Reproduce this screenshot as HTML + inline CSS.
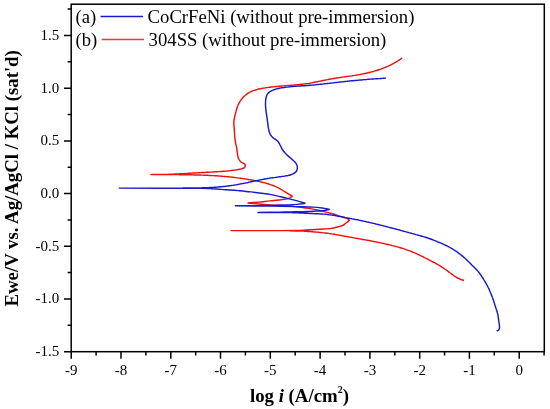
<!DOCTYPE html>
<html><head><meta charset="utf-8"><style>
html,body{margin:0;padding:0;background:#fff;}
svg{display:block;}
.t{font-family:"Liberation Serif",serif;font-size:15px;fill:#000;}
.ti{font-family:"Liberation Serif",serif;font-size:18.8px;font-weight:bold;fill:#000;}
.lg{font-family:"Liberation Serif",serif;font-size:18.7px;fill:#000;}
</style></head><body>
<svg width="550" height="409" viewBox="0 0 550 409">
<path d="M464.1,280.4C463.8,280.3 463.1,280.2 462.6,280.0C462.1,279.9 461.6,279.7 461.2,279.6C460.7,279.4 460.2,279.2 459.8,279.0C459.3,278.8 458.9,278.6 458.4,278.4C458.0,278.1 457.5,277.9 457.1,277.6C456.7,277.4 456.2,277.1 455.8,276.9C455.4,276.6 455.0,276.3 454.5,276.1C454.1,275.8 453.7,275.5 453.3,275.2C452.9,274.9 452.5,274.6 452.1,274.3C451.7,274.0 451.3,273.7 450.9,273.4C450.5,273.1 450.1,272.8 449.6,272.5C449.2,272.2 448.8,271.9 448.4,271.6C448.0,271.3 447.6,271.0 447.2,270.7C446.8,270.4 446.4,270.1 446.0,269.9C445.6,269.6 445.2,269.3 444.7,269.0C444.3,268.7 443.9,268.4 443.5,268.1C443.1,267.9 442.7,267.6 442.2,267.3C441.8,267.0 441.4,266.8 441.0,266.5C440.5,266.2 440.1,266.0 439.7,265.7C439.2,265.5 438.8,265.2 438.4,264.9C437.9,264.7 437.5,264.4 437.1,264.2C436.6,263.9 436.2,263.7 435.7,263.4C435.3,263.2 434.9,263.0 434.4,262.7C434.0,262.5 433.5,262.2 433.1,262.0C432.6,261.8 432.2,261.5 431.8,261.3C431.3,261.0 430.9,260.8 430.4,260.6C430.0,260.3 429.5,260.1 429.1,259.9C428.6,259.6 428.2,259.4 427.7,259.2C427.3,258.9 426.8,258.7 426.4,258.5C425.9,258.2 425.5,258.0 425.0,257.8C424.6,257.6 424.1,257.3 423.7,257.1C423.2,256.9 422.8,256.7 422.3,256.4C421.9,256.2 421.4,256.0 421.0,255.8C420.5,255.6 420.0,255.3 419.6,255.1C419.1,254.9 418.7,254.7 418.2,254.5C417.8,254.3 417.3,254.1 416.8,253.9C416.4,253.6 415.9,253.4 415.5,253.2C415.0,253.0 414.5,252.8 414.1,252.6C413.6,252.4 413.1,252.2 412.7,252.1C412.2,251.9 411.7,251.7 411.3,251.5C410.8,251.3 410.3,251.1 409.9,250.9C409.4,250.8 408.9,250.6 408.5,250.4C408.0,250.2 407.5,250.1 407.0,249.9C406.6,249.7 406.1,249.6 405.6,249.4C405.1,249.2 404.7,249.1 404.2,248.9C403.7,248.8 403.2,248.6 402.7,248.4C402.3,248.3 401.8,248.1 401.3,248.0C400.8,247.9 400.3,247.7 399.9,247.6C399.4,247.4 398.9,247.3 398.4,247.1C397.9,247.0 397.4,246.9 396.9,246.7C396.5,246.6 396.0,246.5 395.5,246.3C395.0,246.2 394.5,246.1 394.0,246.0C393.5,245.8 393.0,245.7 392.5,245.6C392.1,245.5 391.6,245.3 391.1,245.2C390.6,245.1 390.1,245.0 389.6,244.9C389.1,244.7 388.6,244.6 388.1,244.5C387.6,244.4 387.1,244.3 386.7,244.2C386.2,244.1 385.7,244.0 385.2,243.8C384.7,243.7 384.2,243.6 383.7,243.5C383.2,243.4 382.7,243.3 382.2,243.2C381.7,243.1 381.2,243.0 380.7,242.9C380.2,242.8 379.8,242.7 379.3,242.6C378.8,242.5 378.3,242.4 377.8,242.3C377.3,242.2 376.8,242.1 376.3,242.0C375.8,241.9 375.3,241.8 374.8,241.7C374.3,241.6 373.8,241.5 373.3,241.4C372.8,241.3 372.3,241.2 371.8,241.1C371.3,241.0 370.8,240.9 370.4,240.8C369.9,240.7 369.4,240.6 368.9,240.5C368.4,240.4 367.9,240.4 367.4,240.3C366.9,240.2 366.4,240.1 365.9,240.0C365.4,239.9 364.9,239.8 364.4,239.7C363.9,239.6 363.4,239.5 362.9,239.4C362.4,239.4 361.9,239.3 361.4,239.2C360.9,239.1 360.4,239.0 359.9,238.9C359.4,238.8 358.9,238.7 358.4,238.6C357.9,238.6 357.5,238.5 357.0,238.4C356.5,238.3 356.0,238.2 355.5,238.1C355.0,238.0 354.5,237.9 354.0,237.9C353.5,237.8 353.0,237.7 352.5,237.6C352.0,237.5 351.5,237.4 351.0,237.3C350.5,237.2 350.0,237.1 349.5,237.1C349.0,237.0 348.5,236.9 348.0,236.8C347.5,236.7 347.0,236.6 346.5,236.5C346.0,236.4 345.5,236.3 345.0,236.2C344.5,236.2 344.0,236.1 343.6,236.0C343.1,235.9 342.6,235.8 342.1,235.7C341.6,235.6 341.1,235.5 340.6,235.4C340.1,235.3 339.6,235.2 339.1,235.1C338.6,235.1 338.1,235.0 337.6,234.9C337.1,234.8 336.6,234.7 336.1,234.6C335.6,234.5 335.1,234.4 334.6,234.3C334.1,234.3 333.6,234.2 333.1,234.1C332.6,234.0 332.1,233.9 331.6,233.9C331.1,233.8 330.6,233.7 330.1,233.6C329.6,233.6 329.1,233.5 328.6,233.4C328.1,233.3 327.6,233.3 327.1,233.2C326.6,233.2 326.1,233.1 325.6,233.0C325.1,233.0 324.6,232.9 324.1,232.9C323.6,232.8 323.1,232.7 322.6,232.7C322.1,232.6 321.6,232.6 321.1,232.5C320.6,232.5 320.1,232.4 319.6,232.4C319.1,232.3 318.6,232.3 318.1,232.2C317.6,232.2 317.1,232.2 316.6,232.1C316.1,232.1 315.6,232.0 315.1,232.0C314.6,231.9 314.1,231.9 313.6,231.9C313.1,231.8 312.6,231.8 312.1,231.7C311.6,231.7 311.1,231.7 310.6,231.6C310.1,231.6 309.6,231.5 309.1,231.5C308.6,231.5 308.0,231.4 307.5,231.4C307.0,231.4 306.5,231.3 306.0,231.3C305.5,231.3 305.0,231.2 304.5,231.2C304.0,231.2 303.5,231.1 303.0,231.1C302.5,231.1 302.0,231.0 301.5,231.0C301.0,231.0 300.3,230.9 300.0,230.9C298.3,230.9 293.3,230.8 290.0,230.7C286.7,230.6 289.8,230.6 280.0,230.6C270.2,230.6 239.2,230.6 231.1,230.6C239.2,230.6 268.5,230.6 280.0,230.6C291.5,230.5 295.0,230.5 300.0,230.4C305.0,230.3 306.7,229.9 310.0,229.7C313.3,229.5 316.7,229.4 320.0,229.2C323.3,229.0 326.8,229.0 330.0,228.6C333.2,228.2 336.8,227.2 339.1,226.6C341.4,226.0 342.4,225.7 343.6,225.0C344.8,224.3 345.4,223.5 346.4,222.7C347.4,221.9 349.0,220.7 349.5,220.3C349.0,220.0 347.9,218.8 346.4,218.2C344.9,217.5 343.0,217.2 340.5,216.4C338.0,215.6 334.4,214.4 331.4,213.5C328.4,212.6 325.3,211.9 322.3,211.2C319.3,210.5 316.2,209.7 313.2,209.1C310.2,208.5 307.1,208.2 304.1,207.8C301.1,207.4 297.6,207.0 295.0,206.6C292.4,206.2 292.4,205.9 288.2,205.6C284.0,205.3 276.7,205.4 270.0,205.0C263.3,204.6 251.7,203.3 248.0,203.0C249.8,202.8 254.8,202.4 258.5,202.1C262.2,201.8 266.6,201.2 270.0,200.9C273.4,200.6 276.1,200.4 279.1,200.0C282.1,199.6 286.0,199.2 288.2,198.6C290.4,198.0 291.6,196.6 292.3,196.2C292.1,196.1 291.4,195.7 291.0,195.5C290.5,195.2 290.1,195.0 289.7,194.7C289.2,194.4 288.8,194.2 288.4,193.9C287.9,193.6 287.5,193.4 287.1,193.1C286.6,192.8 286.2,192.6 285.8,192.3C285.3,192.0 284.9,191.7 284.5,191.5C284.0,191.2 283.6,190.9 283.1,190.7C282.7,190.4 282.3,190.1 281.8,189.9C281.4,189.6 280.9,189.3 280.5,189.1C280.1,188.8 279.6,188.6 279.2,188.3C278.7,188.1 278.3,187.8 277.8,187.6C277.4,187.4 276.9,187.1 276.4,186.9C276.0,186.7 275.5,186.5 275.1,186.3C274.6,186.1 274.1,185.9 273.7,185.7C273.2,185.5 272.7,185.3 272.2,185.2C271.8,185.0 271.3,184.8 270.8,184.7C270.3,184.5 269.9,184.3 269.4,184.2C268.9,184.0 268.4,183.9 267.9,183.7C267.4,183.6 266.9,183.5 266.5,183.3C266.0,183.2 265.5,183.1 265.0,182.9C264.5,182.8 264.0,182.7 263.5,182.6C263.0,182.4 262.5,182.3 262.0,182.2C261.5,182.1 261.0,182.0 260.5,181.8C260.0,181.7 259.6,181.6 259.1,181.5C258.6,181.4 258.1,181.3 257.6,181.2C257.1,181.1 256.6,181.0 256.1,180.9C255.6,180.8 255.1,180.7 254.6,180.6C254.1,180.5 253.6,180.4 253.1,180.3C252.6,180.2 252.1,180.1 251.6,180.0C251.1,179.9 250.6,179.8 250.1,179.7C249.6,179.6 249.1,179.5 248.6,179.4C248.1,179.4 247.6,179.3 247.1,179.2C246.6,179.1 246.1,179.0 245.5,178.9C245.0,178.9 244.5,178.8 244.0,178.7C243.5,178.6 243.0,178.6 242.5,178.5C242.0,178.4 241.5,178.3 241.0,178.3C240.5,178.2 240.0,178.1 239.5,178.1C239.0,178.0 238.5,177.9 238.0,177.9C237.5,177.8 237.0,177.7 236.5,177.7C235.9,177.6 235.4,177.5 234.9,177.5C234.4,177.4 233.9,177.4 233.4,177.3C232.9,177.2 232.4,177.2 231.9,177.1C231.4,177.1 230.9,177.0 230.4,177.0C229.9,176.9 229.4,176.9 228.9,176.8C228.3,176.8 227.8,176.7 227.3,176.7C226.8,176.6 226.3,176.6 225.8,176.5C225.3,176.5 224.8,176.4 224.3,176.4C223.8,176.4 223.3,176.3 222.8,176.3C222.3,176.2 221.7,176.2 221.2,176.2C220.7,176.1 220.2,176.1 219.7,176.0C219.2,176.0 218.7,176.0 218.2,175.9C217.7,175.9 217.2,175.9 216.7,175.8C216.2,175.8 215.7,175.8 215.1,175.7C214.6,175.7 214.1,175.7 213.6,175.6C213.1,175.6 212.6,175.6 212.1,175.6C211.6,175.5 211.1,175.5 210.6,175.5C210.1,175.4 209.6,175.4 209.0,175.4C208.5,175.4 208.0,175.3 207.5,175.3C207.0,175.3 206.5,175.3 206.0,175.3C205.5,175.2 205.0,175.2 204.5,175.2C204.0,175.2 203.5,175.2 202.9,175.1C202.4,175.1 201.9,175.1 201.4,175.1C200.9,175.1 200.4,175.0 199.9,175.0C199.4,175.0 198.9,175.0 198.4,175.0C197.9,175.0 197.3,175.0 196.8,174.9C196.3,174.9 195.8,174.9 195.3,174.9C194.8,174.9 194.3,174.9 193.8,174.9C193.3,174.9 192.8,174.8 192.3,174.8C191.7,174.8 191.2,174.8 190.7,174.8C190.2,174.8 189.7,174.8 189.2,174.8C188.7,174.8 188.2,174.8 187.7,174.8C187.2,174.7 186.7,174.7 186.1,174.7C185.6,174.7 185.1,174.7 184.6,174.7C184.1,174.7 183.6,174.7 183.1,174.7C182.6,174.7 182.1,174.7 181.6,174.7C181.1,174.7 180.5,174.7 180.0,174.7C179.5,174.7 179.0,174.7 178.5,174.6C178.0,174.6 177.5,174.6 177.0,174.6C176.5,174.6 176.0,174.6 175.5,174.6C174.9,174.6 174.4,174.6 173.9,174.6C173.4,174.6 172.9,174.6 172.4,174.6C171.9,174.6 171.4,174.6 170.9,174.6C170.4,174.6 169.8,174.6 169.3,174.6C168.8,174.6 168.3,174.6 167.8,174.6C167.3,174.6 166.8,174.6 166.3,174.6C165.8,174.6 165.3,174.6 164.8,174.6C164.2,174.6 163.7,174.6 163.2,174.6C162.7,174.6 162.2,174.6 161.7,174.6C161.2,174.6 160.7,174.6 160.2,174.6C159.7,174.6 159.2,174.6 158.6,174.6C158.1,174.5 157.6,174.5 157.1,174.5C156.6,174.5 156.1,174.5 155.6,174.5C155.1,174.5 154.6,174.5 154.1,174.5C153.5,174.5 153.0,174.5 152.5,174.5C152.0,174.5 151.3,174.5 151.0,174.5C151.3,174.5 152.0,174.5 152.5,174.5C153.0,174.5 153.5,174.5 154.0,174.5C154.5,174.5 155.0,174.5 155.5,174.5C156.0,174.5 156.5,174.5 157.0,174.5C157.5,174.5 158.0,174.5 158.5,174.5C159.0,174.5 159.5,174.5 160.0,174.5C160.5,174.5 161.1,174.5 161.6,174.5C162.1,174.5 162.6,174.5 163.1,174.5C163.6,174.5 164.1,174.5 164.6,174.4C165.1,174.4 165.6,174.4 166.1,174.4C166.6,174.4 167.1,174.4 167.6,174.4C168.1,174.3 168.6,174.3 169.1,174.3C169.6,174.3 170.1,174.3 170.6,174.2C171.1,174.2 171.6,174.2 172.1,174.2C172.6,174.2 173.1,174.1 173.6,174.1C174.1,174.1 174.6,174.1 175.1,174.0C175.6,174.0 176.1,174.0 176.6,174.0C177.1,174.0 177.6,173.9 178.1,173.9C178.6,173.9 179.1,173.8 179.6,173.8C180.1,173.8 180.6,173.8 181.1,173.7C181.6,173.7 182.1,173.7 182.6,173.7C183.1,173.6 183.6,173.6 184.1,173.6C184.6,173.5 185.1,173.5 185.6,173.5C186.1,173.5 186.6,173.4 187.1,173.4C187.6,173.4 188.1,173.3 188.6,173.3C189.1,173.3 189.6,173.2 190.1,173.2C190.7,173.2 191.2,173.2 191.7,173.1C192.2,173.1 192.7,173.1 193.2,173.0C193.7,173.0 194.2,173.0 194.7,172.9C195.2,172.9 195.7,172.9 196.2,172.9C196.7,172.8 197.2,172.8 197.7,172.8C198.2,172.7 198.7,172.7 199.2,172.7C199.7,172.6 200.2,172.6 200.7,172.6C201.2,172.6 201.7,172.5 202.2,172.5C202.7,172.5 203.2,172.5 203.7,172.4C204.2,172.4 204.7,172.4 205.2,172.4C205.7,172.3 206.2,172.3 206.7,172.3C207.2,172.3 207.7,172.2 208.2,172.2C208.7,172.2 209.2,172.2 209.7,172.1C210.2,172.1 210.7,172.1 211.2,172.1C211.7,172.0 212.2,172.0 212.7,172.0C213.2,172.0 213.7,171.9 214.2,171.9C214.7,171.9 215.2,171.9 215.7,171.8C216.2,171.8 216.7,171.8 217.2,171.7C217.7,171.7 218.2,171.7 218.7,171.6C219.2,171.6 219.7,171.6 220.2,171.5C220.7,171.5 221.2,171.5 221.7,171.4C222.2,171.4 222.7,171.4 223.2,171.3C223.7,171.3 224.2,171.2 224.7,171.2C225.2,171.2 225.7,171.1 226.2,171.1C226.7,171.0 227.2,171.0 227.7,170.9C228.2,170.9 228.7,170.8 229.2,170.8C229.7,170.7 230.2,170.6 230.7,170.6C231.2,170.5 231.7,170.5 232.2,170.4C232.7,170.3 233.2,170.3 233.7,170.2C234.2,170.1 234.7,170.0 235.2,170.0C235.7,169.9 236.2,169.8 236.7,169.7C237.2,169.6 237.7,169.6 238.2,169.5C238.7,169.4 239.2,169.3 239.7,169.2C240.2,169.1 240.7,169.0 241.2,168.9C241.7,168.8 242.2,168.7 242.6,168.5C243.1,168.3 243.6,168.1 244.0,167.8C244.4,167.5 244.9,167.1 245.1,166.7C245.3,166.3 245.4,165.8 245.3,165.3C245.2,164.9 244.9,164.5 244.5,164.1C244.2,163.8 243.7,163.5 243.2,163.2C242.8,163.0 242.3,162.8 241.8,162.5C241.4,162.2 241.0,161.9 240.6,161.6C240.2,161.2 239.9,160.8 239.6,160.4C239.3,160.0 239.1,159.6 238.9,159.2C238.6,158.7 238.4,158.3 238.3,157.8C238.1,157.4 238.0,156.9 237.9,156.4C237.7,155.9 237.7,155.4 237.6,154.9C237.5,154.4 237.4,153.9 237.4,153.4C237.3,152.9 237.2,152.4 237.2,151.9C237.1,151.4 237.1,150.9 237.0,150.4C236.9,149.9 236.9,149.4 236.8,148.9C236.7,148.4 236.6,147.9 236.6,147.4C236.5,146.9 236.4,146.4 236.3,145.9C236.2,145.4 236.1,145.0 235.9,144.5C235.8,144.0 235.7,143.5 235.6,143.0C235.5,142.5 235.4,142.0 235.4,141.5C235.3,141.0 235.2,140.5 235.1,140.0C235.0,139.6 235.0,139.1 234.9,138.6C234.9,138.1 234.8,137.6 234.8,137.1C234.7,136.6 234.7,136.1 234.7,135.5C234.6,135.0 234.6,134.5 234.6,134.0C234.5,133.5 234.5,133.0 234.5,132.5C234.5,132.0 234.4,131.5 234.4,131.0C234.4,130.5 234.3,130.0 234.3,129.5C234.3,129.0 234.2,128.5 234.2,128.0C234.1,127.5 234.1,127.0 234.0,126.5C234.0,126.0 233.9,125.5 233.9,125.0C233.9,124.5 233.8,124.0 233.8,123.5C233.8,123.0 233.8,122.5 233.9,122.0C233.9,121.5 233.9,121.0 234.0,120.5C234.1,120.0 234.1,119.5 234.2,119.0C234.3,118.5 234.4,118.1 234.5,117.6C234.6,117.1 234.7,116.6 234.8,116.1C235.0,115.6 235.1,115.1 235.2,114.6C235.3,114.1 235.5,113.6 235.6,113.1C235.7,112.6 235.8,112.2 236.0,111.7C236.1,111.2 236.2,110.7 236.3,110.2C236.5,109.8 236.6,109.3 236.7,108.8C236.9,108.3 237.0,107.9 237.2,107.4C237.4,106.9 237.5,106.4 237.7,106.0C237.9,105.5 238.1,105.1 238.3,104.6C238.5,104.1 238.8,103.7 239.0,103.2C239.2,102.8 239.5,102.4 239.7,101.9C240.0,101.5 240.3,101.1 240.6,100.6C240.8,100.2 241.1,99.8 241.4,99.4C241.7,99.0 242.1,98.6 242.4,98.2C242.7,97.8 243.0,97.4 243.4,97.1C243.7,96.7 244.1,96.3 244.5,96.0C244.8,95.7 245.2,95.3 245.6,95.0C246.0,94.7 246.4,94.4 246.8,94.1C247.2,93.8 247.6,93.5 248.0,93.2C248.4,93.0 248.8,92.7 249.3,92.5C249.7,92.2 250.1,92.0 250.6,91.8C251.0,91.6 251.5,91.4 251.9,91.2C252.4,91.0 252.9,90.8 253.3,90.6C253.8,90.5 254.3,90.3 254.7,90.2C255.2,90.0 255.7,89.9 256.2,89.7C256.7,89.6 257.1,89.5 257.6,89.3C258.1,89.2 258.6,89.1 259.1,89.0C259.6,88.9 260.1,88.8 260.6,88.7C261.1,88.6 261.6,88.5 262.1,88.4C262.6,88.3 263.1,88.2 263.6,88.1C264.1,88.0 264.6,87.9 265.1,87.9C265.6,87.8 266.1,87.7 266.6,87.6C267.1,87.6 267.6,87.5 268.1,87.4C268.6,87.3 269.1,87.3 269.6,87.2C270.1,87.2 270.6,87.1 271.1,87.0C271.6,87.0 272.1,86.9 272.6,86.9C273.1,86.8 273.6,86.7 274.1,86.7C274.6,86.6 275.1,86.6 275.6,86.5C276.1,86.5 276.6,86.4 277.1,86.4C277.6,86.3 278.1,86.3 278.6,86.3C279.1,86.2 279.6,86.2 280.1,86.1C280.6,86.1 281.1,86.0 281.6,86.0C282.1,86.0 282.6,85.9 283.1,85.9C283.6,85.8 284.1,85.8 284.6,85.8C285.1,85.7 285.6,85.7 286.1,85.6C286.6,85.6 287.1,85.6 287.6,85.5C288.1,85.5 288.6,85.4 289.1,85.4C289.6,85.4 290.1,85.3 290.6,85.3C291.1,85.3 291.6,85.2 292.1,85.2C292.6,85.1 293.1,85.1 293.6,85.1C294.1,85.0 294.6,85.0 295.1,84.9C295.6,84.9 296.1,84.8 296.6,84.8C297.1,84.7 297.6,84.7 298.1,84.7C298.6,84.6 299.1,84.6 299.6,84.5C300.1,84.5 300.6,84.4 301.0,84.3C301.5,84.3 302.0,84.2 302.5,84.2C303.0,84.1 303.5,84.1 304.0,84.0C304.5,83.9 305.0,83.9 305.5,83.8C306.0,83.7 306.5,83.7 307.0,83.6C307.5,83.5 308.0,83.4 308.5,83.4C309.0,83.3 309.5,83.2 310.0,83.1C310.5,83.1 311.0,83.0 311.5,82.9C312.0,82.8 312.5,82.7 313.0,82.6C313.5,82.5 313.9,82.4 314.4,82.3C314.9,82.2 315.4,82.1 315.9,82.0C316.4,81.9 316.9,81.8 317.4,81.7C317.9,81.6 318.4,81.5 318.9,81.4C319.4,81.3 319.9,81.2 320.4,81.1C320.9,81.0 321.3,80.9 321.8,80.8C322.3,80.7 322.8,80.6 323.3,80.5C323.8,80.4 324.3,80.3 324.8,80.2C325.3,80.1 325.8,80.0 326.3,79.9C326.8,79.8 327.3,79.7 327.8,79.6C328.2,79.5 328.7,79.4 329.2,79.3C329.7,79.2 330.2,79.1 330.7,79.0C331.2,78.9 331.7,78.8 332.2,78.8C332.7,78.7 333.2,78.6 333.7,78.5C334.2,78.4 334.7,78.3 335.2,78.2C335.7,78.2 336.1,78.1 336.6,78.0C337.1,77.9 337.6,77.9 338.1,77.8C338.6,77.7 339.1,77.6 339.6,77.6C340.1,77.5 340.6,77.4 341.1,77.3C341.6,77.3 342.1,77.2 342.6,77.1C343.1,77.1 343.6,77.0 344.1,76.9C344.6,76.8 345.1,76.8 345.6,76.7C346.0,76.6 346.5,76.6 347.0,76.5C347.5,76.4 348.0,76.4 348.5,76.3C349.0,76.2 349.5,76.1 350.0,76.1C350.5,76.0 351.0,75.9 351.5,75.9C352.0,75.8 352.5,75.7 353.0,75.6C353.5,75.6 354.0,75.5 354.5,75.4C355.0,75.3 355.5,75.2 356.0,75.2C356.5,75.1 357.0,75.0 357.5,74.9C358.0,74.8 358.5,74.7 358.9,74.6C359.4,74.6 359.9,74.5 360.4,74.4C360.9,74.3 361.4,74.2 361.9,74.1C362.4,74.0 362.9,73.9 363.4,73.8C363.9,73.7 364.4,73.6 364.9,73.5C365.4,73.4 365.9,73.3 366.4,73.2C366.9,73.1 367.4,72.9 367.8,72.8C368.3,72.7 368.8,72.6 369.3,72.5C369.8,72.4 370.3,72.2 370.8,72.1C371.3,72.0 371.8,71.9 372.3,71.7C372.7,71.6 373.2,71.5 373.7,71.3C374.2,71.2 374.7,71.1 375.2,70.9C375.6,70.8 376.1,70.6 376.6,70.5C377.1,70.3 377.6,70.2 378.0,70.0C378.5,69.9 379.0,69.7 379.5,69.5C379.9,69.4 380.4,69.2 380.9,69.1C381.4,68.9 381.8,68.7 382.3,68.5C382.8,68.4 383.2,68.2 383.7,68.0C384.2,67.8 384.6,67.6 385.1,67.4C385.6,67.3 386.0,67.1 386.5,66.9C386.9,66.7 387.4,66.5 387.9,66.3C388.3,66.1 388.8,65.9 389.2,65.6C389.7,65.4 390.1,65.2 390.6,65.0C391.0,64.8 391.5,64.5 391.9,64.3C392.3,64.1 392.8,63.8 393.2,63.6C393.7,63.4 394.1,63.1 394.5,62.9C395.0,62.6 395.4,62.4 395.8,62.1C396.3,61.9 396.7,61.6 397.1,61.3C397.5,61.1 398.0,60.8 398.4,60.5C398.8,60.2 399.2,60.0 399.6,59.7C400.1,59.4 400.5,59.1 400.9,58.8C401.3,58.5 401.9,58.1 402.1,57.9" fill="none" stroke="#ee1111" stroke-width="1.45" stroke-linejoin="round"/>
<path d="M496.6,330.8C496.9,330.7 497.8,330.5 498.2,330.3C498.6,330.0 498.9,329.7 499.1,329.3C499.3,328.9 499.4,328.5 499.5,328.0C499.6,327.6 499.5,327.1 499.5,326.6C499.5,326.1 499.4,325.5 499.4,325.0C499.3,324.5 499.2,324.0 499.1,323.5C499.0,323.0 499.0,322.5 498.9,322.0C498.8,321.5 498.8,321.0 498.7,320.5C498.6,320.0 498.6,319.5 498.5,319.0C498.5,318.5 498.4,318.0 498.3,317.5C498.3,317.0 498.2,316.5 498.1,316.0C498.0,315.5 497.9,315.1 497.8,314.6C497.7,314.1 497.6,313.6 497.4,313.1C497.3,312.6 497.2,312.1 497.0,311.6C496.9,311.2 496.7,310.7 496.6,310.2C496.4,309.7 496.3,309.2 496.1,308.7C496.0,308.3 495.8,307.8 495.6,307.3C495.5,306.8 495.3,306.3 495.2,305.8C495.0,305.3 494.9,304.9 494.7,304.4C494.6,303.9 494.4,303.4 494.3,302.9C494.1,302.5 494.0,302.0 493.8,301.5C493.6,301.0 493.5,300.5 493.3,300.1C493.2,299.6 493.0,299.1 492.8,298.6C492.7,298.2 492.5,297.7 492.3,297.2C492.2,296.7 492.0,296.3 491.8,295.8C491.6,295.3 491.5,294.8 491.3,294.4C491.1,293.9 490.9,293.4 490.7,293.0C490.5,292.5 490.3,292.0 490.1,291.6C489.9,291.1 489.7,290.7 489.5,290.2C489.3,289.7 489.1,289.3 488.9,288.8C488.6,288.4 488.4,287.9 488.2,287.5C488.0,287.0 487.7,286.6 487.5,286.1C487.3,285.7 487.0,285.2 486.8,284.8C486.5,284.3 486.3,283.9 486.1,283.5C485.8,283.0 485.5,282.6 485.3,282.1C485.0,281.7 484.8,281.3 484.5,280.8C484.3,280.4 484.0,280.0 483.7,279.5C483.5,279.1 483.2,278.7 482.9,278.3C482.6,277.8 482.4,277.4 482.1,277.0C481.8,276.6 481.5,276.1 481.3,275.7C481.0,275.3 480.7,274.9 480.4,274.5C480.1,274.1 479.8,273.6 479.6,273.2C479.3,272.8 479.0,272.4 478.6,272.0C478.3,271.7 478.0,271.3 477.7,270.9C477.3,270.5 477.0,270.2 476.6,269.8C476.3,269.4 475.9,269.1 475.6,268.7C475.2,268.4 474.8,268.0 474.5,267.6C474.1,267.3 473.8,266.9 473.4,266.6C473.1,266.2 472.7,265.8 472.3,265.5C472.0,265.1 471.6,264.8 471.3,264.4C470.9,264.1 470.6,263.7 470.2,263.3C469.9,263.0 469.5,262.6 469.2,262.3C468.8,261.9 468.4,261.6 468.1,261.2C467.7,260.9 467.4,260.5 467.0,260.2C466.6,259.8 466.3,259.5 465.9,259.2C465.5,258.8 465.1,258.5 464.8,258.1C464.4,257.8 464.0,257.5 463.6,257.1C463.2,256.8 462.9,256.5 462.5,256.1C462.1,255.8 461.7,255.5 461.3,255.2C460.9,254.9 460.5,254.5 460.1,254.2C459.7,253.9 459.3,253.6 458.9,253.3C458.5,253.0 458.1,252.7 457.7,252.4C457.3,252.1 456.9,251.8 456.5,251.5C456.0,251.2 455.6,250.9 455.2,250.7C454.8,250.4 454.4,250.1 453.9,249.8C453.5,249.6 453.1,249.3 452.7,249.0C452.2,248.8 451.8,248.5 451.4,248.3C450.9,248.0 450.5,247.8 450.1,247.5C449.6,247.3 449.2,247.0 448.7,246.8C448.3,246.6 447.8,246.3 447.4,246.1C446.9,245.9 446.5,245.7 446.0,245.4C445.6,245.2 445.1,245.0 444.7,244.8C444.2,244.6 443.7,244.4 443.3,244.2C442.8,244.0 442.4,243.7 441.9,243.5C441.4,243.3 441.0,243.1 440.5,242.9C440.0,242.8 439.6,242.6 439.1,242.4C438.6,242.2 438.2,242.0 437.7,241.8C437.2,241.6 436.8,241.4 436.3,241.2C435.8,241.0 435.4,240.8 434.9,240.6C434.4,240.4 434.0,240.3 433.5,240.1C433.0,239.9 432.5,239.7 432.1,239.5C431.6,239.3 431.1,239.2 430.7,239.0C430.2,238.8 429.7,238.6 429.2,238.5C428.8,238.3 428.3,238.2 427.8,238.0C427.3,237.8 426.8,237.7 426.4,237.5C425.9,237.4 425.4,237.2 424.9,237.1C424.4,236.9 424.0,236.8 423.5,236.6C423.0,236.5 422.5,236.4 422.0,236.2C421.5,236.1 421.0,235.9 420.6,235.8C420.1,235.7 419.6,235.5 419.1,235.4C418.6,235.3 418.1,235.1 417.6,235.0C417.2,234.9 416.7,234.7 416.2,234.6C415.7,234.4 415.2,234.3 414.7,234.2C414.2,234.0 413.7,233.9 413.3,233.8C412.8,233.6 412.3,233.5 411.8,233.4C411.3,233.2 410.8,233.1 410.3,233.0C409.9,232.8 409.4,232.7 408.9,232.6C408.4,232.4 407.9,232.3 407.4,232.2C406.9,232.0 406.4,231.9 406.0,231.8C405.5,231.6 405.0,231.5 404.5,231.4C404.0,231.2 403.5,231.1 403.0,231.0C402.5,230.8 402.1,230.7 401.6,230.6C401.1,230.4 400.6,230.3 400.1,230.2C399.6,230.0 399.1,229.9 398.6,229.8C398.2,229.6 397.7,229.5 397.2,229.4C396.7,229.3 396.2,229.1 395.7,229.0C395.2,228.9 394.7,228.7 394.3,228.6C393.8,228.5 393.3,228.3 392.8,228.2C392.3,228.1 391.8,228.0 391.3,227.8C390.8,227.7 390.3,227.6 389.9,227.5C389.4,227.3 388.9,227.2 388.4,227.1C387.9,227.0 387.4,226.8 386.9,226.7C386.4,226.6 385.9,226.5 385.5,226.3C385.0,226.2 384.5,226.1 384.0,226.0C383.5,225.8 383.0,225.7 382.5,225.6C382.0,225.5 381.5,225.3 381.1,225.2C380.6,225.1 380.1,225.0 379.6,224.9C379.1,224.7 378.6,224.6 378.1,224.5C377.6,224.4 377.1,224.3 376.6,224.1C376.1,224.0 375.7,223.9 375.2,223.8C374.7,223.7 374.2,223.5 373.7,223.4C373.2,223.3 372.7,223.2 372.2,223.1C371.7,223.0 371.2,222.9 370.7,222.7C370.3,222.6 369.8,222.5 369.3,222.4C368.8,222.3 368.3,222.2 367.8,222.1C367.3,222.0 366.8,221.8 366.3,221.7C365.8,221.6 365.3,221.5 364.8,221.4C364.3,221.3 363.8,221.2 363.4,221.1C362.9,221.0 362.4,220.9 361.9,220.8C361.4,220.7 360.9,220.6 360.4,220.5C359.9,220.3 359.4,220.2 358.9,220.1C358.4,220.0 357.9,219.9 357.4,219.8C356.9,219.7 356.4,219.6 355.9,219.6C355.4,219.5 354.9,219.4 354.5,219.3C354.0,219.2 353.5,219.1 353.0,219.0C352.5,218.9 352.0,218.8 351.5,218.7C351.0,218.6 350.5,218.5 350.0,218.4C349.5,218.3 349.0,218.3 348.5,218.2C348.0,218.1 347.5,218.0 347.0,217.9C346.5,217.8 346.0,217.7 345.5,217.6C345.0,217.5 344.5,217.4 344.0,217.3C343.5,217.2 343.0,217.1 342.5,217.0C342.0,217.0 341.6,216.9 341.1,216.8C340.6,216.7 340.1,216.6 339.6,216.5C339.1,216.4 338.6,216.3 338.1,216.2C337.6,216.1 337.1,216.0 336.6,215.9C336.1,215.8 335.6,215.7 335.1,215.6C334.6,215.5 334.1,215.4 333.6,215.3C333.1,215.2 332.6,215.2 332.1,215.1C331.6,215.0 331.1,214.9 330.6,214.9C330.1,214.8 329.6,214.7 329.1,214.7C328.6,214.6 328.1,214.5 327.6,214.5C327.1,214.4 326.6,214.4 326.1,214.3C325.6,214.3 325.1,214.2 324.6,214.2C324.1,214.2 323.6,214.1 323.1,214.1C322.6,214.1 322.1,214.0 321.6,214.0C321.1,214.0 320.6,213.9 320.1,213.9C319.6,213.9 319.1,213.8 318.6,213.8C318.1,213.8 317.6,213.8 317.1,213.7C316.6,213.7 316.0,213.7 315.5,213.7C315.0,213.6 314.5,213.6 314.0,213.6C313.5,213.6 313.0,213.6 312.5,213.5C312.0,213.5 311.5,213.5 311.0,213.5C310.5,213.4 310.0,213.4 309.5,213.4C309.0,213.4 308.5,213.3 308.0,213.3C307.5,213.3 307.0,213.3 306.5,213.2C306.0,213.2 305.4,213.2 304.9,213.2C304.4,213.1 303.9,213.1 303.4,213.1C302.9,213.1 302.4,213.0 301.9,213.0C301.4,213.0 300.9,213.0 300.4,212.9C299.9,212.9 299.4,212.9 298.9,212.9C298.4,212.9 297.9,212.8 297.4,212.8C296.9,212.8 296.4,212.8 295.9,212.8C295.4,212.7 294.9,212.7 294.4,212.7C293.9,212.7 293.3,212.7 292.8,212.7C292.3,212.7 291.8,212.6 291.3,212.6C290.8,212.6 290.3,212.6 289.8,212.6C289.3,212.6 288.8,212.6 288.3,212.6C287.8,212.6 287.3,212.6 286.8,212.5C286.3,212.5 285.8,212.5 285.3,212.5C284.8,212.5 284.3,212.5 283.8,212.5C283.3,212.5 282.7,212.5 282.2,212.5C281.7,212.5 281.2,212.5 280.7,212.5C280.2,212.5 279.7,212.5 279.2,212.5C278.7,212.5 278.2,212.5 277.7,212.5C277.2,212.5 276.7,212.5 276.2,212.5C275.7,212.5 275.2,212.5 274.7,212.5C274.2,212.5 273.7,212.5 273.1,212.5C272.6,212.5 272.1,212.5 271.6,212.5C271.1,212.5 270.6,212.5 270.1,212.5C269.6,212.5 269.1,212.5 268.6,212.5C268.1,212.5 267.6,212.5 267.1,212.5C266.6,212.5 266.1,212.5 265.6,212.5C265.1,212.5 264.6,212.5 264.1,212.5C263.6,212.5 263.0,212.4 262.5,212.4C262.0,212.4 261.5,212.4 261.0,212.4C260.5,212.4 260.0,212.4 259.5,212.4C259.0,212.4 258.3,212.4 258.0,212.4C261.7,212.3 273.8,212.2 280.0,212.1C286.2,212.0 289.5,212.0 295.0,211.8C300.5,211.7 308.6,211.4 313.2,211.2C317.8,211.0 319.6,211.0 322.3,210.7C325.0,210.4 328.3,209.6 329.5,209.4C328.3,209.2 325.0,208.4 322.3,208.0C319.6,207.6 317.8,207.3 313.2,207.1C308.6,206.9 302.2,206.8 295.0,206.6C287.8,206.4 279.9,206.2 270.0,206.1C260.1,206.0 241.2,205.9 235.4,205.8C241.2,205.8 261.2,205.6 270.0,205.5C278.8,205.4 283.6,205.2 288.2,205.0C292.8,204.8 294.5,204.7 297.3,204.4C300.1,204.1 303.7,203.5 305.0,203.3C303.7,202.9 300.1,201.7 297.3,200.9C294.5,200.1 291.2,199.3 288.2,198.6C285.2,197.8 282.1,197.1 279.1,196.4C276.1,195.7 272.6,194.9 270.0,194.4C267.4,193.9 266.8,193.9 263.6,193.5C260.4,193.1 255.1,192.4 250.9,191.9C246.7,191.4 242.4,191.0 238.2,190.6C234.0,190.2 229.8,190.0 225.5,189.7C221.2,189.4 216.9,189.0 212.7,188.8C208.4,188.6 215.6,188.4 200.0,188.3C184.4,188.2 132.8,188.1 119.3,188.1C119.6,188.1 120.3,188.1 120.8,188.1C121.3,188.1 121.8,188.1 122.3,188.1C122.8,188.1 123.3,188.1 123.8,188.1C124.3,188.1 124.8,188.1 125.3,188.1C125.8,188.1 126.3,188.1 126.8,188.1C127.3,188.1 127.8,188.1 128.4,188.1C128.9,188.1 129.4,188.1 129.9,188.1C130.4,188.1 130.9,188.1 131.4,188.1C131.9,188.1 132.4,188.1 132.9,188.1C133.4,188.1 133.9,188.1 134.4,188.1C134.9,188.1 135.4,188.1 135.9,188.1C136.4,188.1 136.9,188.1 137.4,188.1C137.9,188.1 138.4,188.1 138.9,188.1C139.4,188.1 139.9,188.1 140.4,188.1C140.9,188.1 141.4,188.1 141.9,188.1C142.4,188.1 142.9,188.1 143.4,188.1C143.9,188.1 144.4,188.1 144.9,188.1C145.4,188.1 145.9,188.1 146.4,188.1C146.9,188.1 147.4,188.1 147.9,188.1C148.4,188.1 148.9,188.1 149.4,188.1C149.9,188.1 150.4,188.1 150.9,188.1C151.4,188.1 151.9,188.1 152.5,188.1C153.0,188.1 153.5,188.1 154.0,188.1C154.5,188.1 155.0,188.1 155.5,188.1C156.0,188.1 156.5,188.1 157.0,188.1C157.5,188.1 158.0,188.1 158.5,188.1C159.0,188.1 159.5,188.1 160.0,188.1C160.5,188.1 161.0,188.1 161.5,188.1C162.0,188.1 162.5,188.1 163.0,188.1C163.5,188.1 164.0,188.1 164.5,188.1C165.0,188.1 165.5,188.1 166.0,188.1C166.5,188.1 167.0,188.1 167.5,188.1C168.0,188.1 168.5,188.1 169.0,188.1C169.5,188.1 170.0,188.1 170.5,188.1C171.0,188.1 171.5,188.1 172.0,188.1C172.5,188.1 173.0,188.1 173.5,188.1C174.0,188.1 174.5,188.1 175.0,188.1C175.5,188.1 176.0,188.1 176.5,188.1C177.1,188.1 177.6,188.1 178.1,188.1C178.6,188.1 179.1,188.1 179.6,188.1C180.1,188.1 180.6,188.1 181.1,188.1C181.6,188.1 182.1,188.1 182.6,188.1C183.1,188.1 183.6,188.0 184.1,188.0C184.6,188.0 185.1,188.0 185.6,188.0C186.1,188.0 186.6,188.0 187.1,188.0C187.6,188.0 188.1,188.0 188.6,188.0C189.1,188.0 189.6,188.0 190.1,188.0C190.6,188.0 191.1,188.0 191.6,188.0C192.1,188.0 192.6,188.0 193.1,188.0C193.6,188.0 194.1,188.0 194.6,188.0C195.2,188.0 195.7,188.0 196.2,188.0C196.7,187.9 197.2,187.9 197.7,187.9C198.2,187.9 198.7,187.9 199.2,187.9C199.7,187.9 200.2,187.9 200.7,187.9C201.2,187.9 201.7,187.8 202.2,187.8C202.7,187.8 203.2,187.8 203.7,187.8C204.2,187.8 204.7,187.7 205.2,187.7C205.7,187.7 206.2,187.7 206.7,187.7C207.2,187.7 207.7,187.6 208.2,187.6C208.7,187.6 209.2,187.6 209.7,187.5C210.2,187.5 210.7,187.5 211.2,187.5C211.7,187.4 212.2,187.4 212.7,187.4C213.2,187.3 213.7,187.3 214.2,187.3C214.7,187.2 215.2,187.2 215.7,187.2C216.2,187.1 216.7,187.1 217.2,187.1C217.7,187.0 218.2,187.0 218.7,186.9C219.2,186.9 219.7,186.9 220.2,186.8C220.7,186.8 221.2,186.7 221.7,186.7C222.2,186.6 222.7,186.6 223.2,186.5C223.7,186.5 224.2,186.4 224.7,186.4C225.2,186.3 225.7,186.3 226.2,186.2C226.7,186.1 227.2,186.1 227.7,186.0C228.2,186.0 228.7,185.9 229.2,185.8C229.7,185.8 230.2,185.7 230.7,185.6C231.2,185.5 231.7,185.5 232.2,185.4C232.7,185.3 233.2,185.2 233.7,185.2C234.2,185.1 234.7,185.0 235.1,184.9C235.6,184.8 236.1,184.7 236.6,184.7C237.1,184.6 237.6,184.5 238.1,184.4C238.6,184.3 239.1,184.2 239.6,184.1C240.1,184.0 240.6,183.9 241.1,183.8C241.6,183.7 242.1,183.6 242.6,183.6C243.1,183.5 243.5,183.4 244.0,183.3C244.5,183.2 245.0,183.1 245.5,183.0C246.0,182.9 246.5,182.8 247.0,182.7C247.5,182.6 248.0,182.5 248.5,182.3C249.0,182.2 249.5,182.1 250.0,182.0C250.4,181.9 250.9,181.8 251.4,181.7C251.9,181.6 252.4,181.5 252.9,181.4C253.4,181.3 253.9,181.2 254.4,181.1C254.9,181.0 255.4,180.9 255.9,180.8C256.4,180.7 256.8,180.6 257.3,180.5C257.8,180.4 258.3,180.3 258.8,180.2C259.3,180.1 259.8,180.0 260.3,179.9C260.8,179.8 261.3,179.7 261.8,179.6C262.3,179.5 262.8,179.4 263.3,179.3C263.7,179.2 264.2,179.1 264.7,179.0C265.2,179.0 265.7,178.9 266.2,178.8C266.7,178.7 267.2,178.6 267.7,178.5C268.2,178.4 268.7,178.3 269.2,178.3C269.7,178.2 270.2,178.1 270.7,178.0C271.2,177.9 271.6,177.9 272.1,177.8C272.6,177.7 273.1,177.7 273.6,177.6C274.1,177.5 274.6,177.4 275.1,177.4C275.6,177.3 276.1,177.2 276.6,177.2C277.1,177.1 277.6,177.1 278.1,177.0C278.6,176.9 279.1,176.9 279.6,176.8C280.1,176.7 280.6,176.7 281.1,176.6C281.6,176.5 282.1,176.5 282.6,176.4C283.1,176.3 283.6,176.2 284.1,176.2C284.6,176.1 285.1,176.0 285.6,175.9C286.1,175.8 286.6,175.8 287.1,175.7C287.6,175.6 288.1,175.5 288.6,175.3C289.1,175.2 289.6,175.1 290.0,175.0C290.5,174.8 291.0,174.7 291.5,174.5C292.0,174.3 292.4,174.1 292.9,173.9C293.3,173.7 293.8,173.5 294.2,173.2C294.7,172.9 295.1,172.7 295.4,172.3C295.8,172.0 296.1,171.6 296.4,171.2C296.6,170.8 296.8,170.4 297.0,169.9C297.2,169.4 297.3,168.9 297.3,168.5C297.4,168.0 297.4,167.4 297.3,166.9C297.3,166.4 297.2,165.9 297.0,165.4C296.9,165.0 296.6,164.5 296.4,164.0C296.2,163.6 295.9,163.2 295.5,162.8C295.2,162.4 294.9,162.0 294.5,161.7C294.2,161.3 293.8,161.0 293.4,160.6C293.1,160.3 292.7,159.9 292.3,159.6C291.9,159.3 291.5,158.9 291.2,158.6C290.8,158.3 290.4,158.0 290.0,157.6C289.6,157.3 289.3,157.0 288.9,156.7C288.5,156.3 288.1,156.0 287.7,155.7C287.4,155.3 287.0,155.0 286.6,154.6C286.3,154.3 285.9,153.9 285.6,153.6C285.2,153.2 284.9,152.8 284.6,152.4C284.2,152.1 283.9,151.7 283.6,151.3C283.3,150.9 283.0,150.4 282.8,150.0C282.5,149.6 282.2,149.2 282.0,148.7C281.8,148.3 281.5,147.8 281.3,147.4C281.1,146.9 280.8,146.4 280.6,146.0C280.4,145.5 280.2,145.1 279.9,144.6C279.7,144.2 279.5,143.8 279.2,143.3C278.9,142.9 278.7,142.5 278.4,142.1C278.1,141.7 277.8,141.4 277.5,141.0C277.1,140.7 276.8,140.4 276.4,140.1C276.0,139.8 275.6,139.5 275.2,139.2C274.8,138.9 274.3,138.7 273.9,138.4C273.5,138.1 273.1,137.8 272.8,137.5C272.4,137.1 272.0,136.8 271.7,136.4C271.4,136.0 271.1,135.6 270.8,135.2C270.5,134.8 270.3,134.3 270.1,133.9C269.9,133.4 269.7,133.0 269.5,132.5C269.3,132.1 269.2,131.6 269.0,131.1C268.9,130.6 268.8,130.1 268.7,129.6C268.6,129.1 268.5,128.6 268.4,128.1C268.3,127.6 268.2,127.1 268.2,126.6C268.1,126.1 268.0,125.6 268.0,125.1C267.9,124.6 267.9,124.1 267.8,123.6C267.7,123.1 267.7,122.6 267.6,122.1C267.5,121.6 267.5,121.1 267.4,120.6C267.3,120.1 267.3,119.6 267.2,119.1C267.1,118.6 267.0,118.1 267.0,117.6C266.9,117.1 266.8,116.6 266.8,116.1C266.7,115.7 266.6,115.2 266.5,114.7C266.5,114.2 266.4,113.7 266.3,113.2C266.2,112.7 266.2,112.2 266.1,111.7C266.0,111.2 266.0,110.7 265.9,110.2C265.9,109.7 265.8,109.2 265.8,108.7C265.7,108.2 265.7,107.7 265.6,107.2C265.6,106.7 265.6,106.2 265.5,105.7C265.5,105.2 265.5,104.7 265.5,104.2C265.5,103.7 265.5,103.2 265.5,102.7C265.5,102.2 265.5,101.6 265.6,101.1C265.6,100.6 265.7,100.1 265.7,99.6C265.8,99.1 265.9,98.6 266.0,98.1C266.1,97.6 266.2,97.1 266.3,96.6C266.5,96.2 266.6,95.7 266.8,95.2C267.0,94.8 267.3,94.4 267.5,94.0C267.8,93.6 268.1,93.2 268.5,92.9C268.8,92.5 269.2,92.2 269.6,91.9C270.0,91.6 270.5,91.3 270.9,91.1C271.4,90.8 271.8,90.6 272.3,90.4C272.8,90.2 273.3,90.0 273.7,89.8C274.2,89.6 274.7,89.5 275.2,89.3C275.7,89.2 276.1,89.0 276.6,88.9C277.1,88.8 277.6,88.6 278.1,88.5C278.6,88.4 279.1,88.3 279.6,88.2C280.1,88.1 280.5,88.0 281.0,87.9C281.5,87.8 282.0,87.8 282.5,87.7C283.0,87.6 283.5,87.5 284.0,87.5C284.5,87.4 285.0,87.3 285.5,87.2C286.0,87.2 286.5,87.1 287.0,87.1C287.5,87.0 288.0,86.9 288.5,86.9C289.0,86.8 289.5,86.8 290.0,86.7C290.5,86.7 291.0,86.6 291.5,86.6C292.0,86.5 292.5,86.5 293.0,86.5C293.5,86.4 294.0,86.4 294.5,86.3C295.0,86.3 295.5,86.3 296.0,86.2C296.5,86.2 297.0,86.2 297.5,86.1C298.0,86.1 298.5,86.1 299.0,86.0C299.5,86.0 300.0,86.0 300.5,85.9C301.0,85.9 301.5,85.9 302.0,85.8C302.5,85.8 303.0,85.8 303.5,85.7C304.0,85.7 304.5,85.7 305.0,85.7C305.5,85.6 306.0,85.6 306.5,85.6C307.0,85.5 307.5,85.5 308.0,85.4C308.5,85.4 309.0,85.4 309.5,85.3C310.0,85.3 310.5,85.3 311.0,85.2C311.5,85.2 312.0,85.1 312.5,85.1C313.0,85.0 313.5,85.0 314.0,84.9C314.5,84.9 315.0,84.8 315.5,84.8C316.0,84.7 316.5,84.7 317.0,84.6C317.5,84.6 318.0,84.5 318.5,84.5C319.0,84.4 319.5,84.4 320.0,84.3C320.5,84.3 321.0,84.2 321.5,84.2C322.0,84.1 322.5,84.0 323.0,84.0C323.5,83.9 324.0,83.9 324.5,83.8C325.0,83.8 325.5,83.7 326.0,83.6C326.5,83.6 327.0,83.5 327.5,83.5C328.0,83.4 328.5,83.3 329.0,83.3C329.5,83.2 330.0,83.2 330.5,83.1C331.0,83.1 331.5,83.0 332.0,82.9C332.5,82.9 333.0,82.8 333.5,82.8C334.0,82.7 334.5,82.6 335.0,82.6C335.5,82.5 336.0,82.5 336.5,82.4C337.0,82.4 337.5,82.3 338.0,82.3C338.5,82.2 339.0,82.1 339.5,82.1C340.0,82.0 340.5,82.0 341.0,81.9C341.5,81.9 342.0,81.8 342.5,81.8C343.0,81.7 343.5,81.7 344.0,81.6C344.5,81.5 345.0,81.5 345.5,81.4C346.0,81.4 346.5,81.3 347.0,81.3C347.5,81.2 348.0,81.2 348.5,81.1C349.0,81.1 349.5,81.0 350.0,81.0C350.5,80.9 351.0,80.9 351.5,80.8C352.0,80.8 352.5,80.7 353.0,80.7C353.5,80.6 354.0,80.6 354.5,80.5C355.0,80.5 355.5,80.4 356.0,80.4C356.5,80.4 357.0,80.3 357.5,80.3C358.0,80.2 358.5,80.2 359.0,80.1C359.5,80.1 360.0,80.0 360.5,80.0C361.0,79.9 361.5,79.9 362.0,79.9C362.5,79.8 363.0,79.8 363.5,79.7C364.0,79.7 364.5,79.6 365.0,79.6C365.5,79.5 366.0,79.5 366.5,79.5C367.0,79.4 367.5,79.4 368.0,79.3C368.5,79.3 369.0,79.3 369.5,79.2C370.0,79.2 370.5,79.1 371.0,79.1C371.5,79.1 372.0,79.0 372.5,79.0C373.0,79.0 373.5,78.9 374.0,78.9C374.5,78.8 375.0,78.8 375.5,78.8C376.0,78.7 376.5,78.7 377.0,78.7C377.5,78.6 378.0,78.6 378.5,78.6C379.0,78.5 379.5,78.5 380.0,78.5C380.5,78.4 381.0,78.4 381.5,78.4C382.0,78.3 382.5,78.3 383.0,78.3C383.5,78.2 384.0,78.2 384.5,78.2C385.0,78.2 385.7,78.1 386.0,78.1" fill="none" stroke="#1a1acc" stroke-width="1.45" stroke-linejoin="round"/>
<rect x="71.2" y="4.2" width="473.1" height="347.5" fill="none" stroke="#000" stroke-width="1.5"/>
<path d="M71.2,351.7V358.7 M96.1,351.7V355.4 M121.0,351.7V358.7 M145.9,351.7V355.4 M170.8,351.7V358.7 M195.7,351.7V355.4 M220.5,351.7V358.7 M245.4,351.7V355.4 M270.3,351.7V358.7 M295.2,351.7V355.4 M320.1,351.7V358.7 M345.0,351.7V355.4 M369.9,351.7V358.7 M394.8,351.7V355.4 M419.7,351.7V358.7 M444.6,351.7V355.4 M469.4,351.7V358.7 M494.3,351.7V355.4 M519.2,351.7V358.7 M544.1,351.7V355.4 M71.2,351.7H64.0 M71.2,325.3H67.60000000000001 M71.2,299.0H64.0 M71.2,272.6H67.60000000000001 M71.2,246.3H64.0 M71.2,219.9H67.60000000000001 M71.2,193.6H64.0 M71.2,167.2H67.60000000000001 M71.2,140.9H64.0 M71.2,114.5H67.60000000000001 M71.2,88.2H64.0 M71.2,61.8H67.60000000000001 M71.2,35.5H64.0 M71.2,9.1H67.60000000000001" stroke="#000" stroke-width="1.5" fill="none"/>
<text x="71.2" y="374.8" text-anchor="middle" class="t">-9</text>
<text x="121.0" y="374.8" text-anchor="middle" class="t">-8</text>
<text x="170.8" y="374.8" text-anchor="middle" class="t">-7</text>
<text x="220.5" y="374.8" text-anchor="middle" class="t">-6</text>
<text x="270.3" y="374.8" text-anchor="middle" class="t">-5</text>
<text x="320.1" y="374.8" text-anchor="middle" class="t">-4</text>
<text x="369.9" y="374.8" text-anchor="middle" class="t">-3</text>
<text x="419.7" y="374.8" text-anchor="middle" class="t">-2</text>
<text x="469.4" y="374.8" text-anchor="middle" class="t">-1</text>
<text x="519.2" y="374.8" text-anchor="middle" class="t">0</text>
<text x="59.2" y="356.0" text-anchor="end" class="t">-1.5</text>
<text x="59.2" y="303.3" text-anchor="end" class="t">-1.0</text>
<text x="59.2" y="250.6" text-anchor="end" class="t">-0.5</text>
<text x="59.2" y="197.9" text-anchor="end" class="t">0.0</text>
<text x="59.2" y="145.2" text-anchor="end" class="t">0.5</text>
<text x="59.2" y="92.5" text-anchor="end" class="t">1.0</text>
<text x="59.2" y="39.8" text-anchor="end" class="t">1.5</text>
<text x="250" y="402" class="ti">log <tspan font-style="italic">i</tspan> (A/cm<tspan font-size="10" dy="-9">2</tspan><tspan dy="9">)</tspan></text>
<text transform="translate(18,306.5) rotate(-90)" class="ti" textLength="256.3" lengthAdjust="spacingAndGlyphs">Ewe/V vs. Ag/AgCl / KCl (sat'd)</text>
<text x="75.5" y="23" class="lg">(a)</text>
<text x="147.6" y="23" class="lg">CoCrFeNi (without pre-immersion)</text>
<text x="75.5" y="45.5" class="lg">(b)</text>
<text x="148.6" y="45.5" class="lg">304SS (without pre-immersion)</text>
<path d="M100.5,16.5H143.1" stroke="#1a1acc" stroke-width="1.3"/>
<path d="M101.8,39.5H144" stroke="#e83a3a" stroke-width="1.3"/>
</svg>
</body></html>
